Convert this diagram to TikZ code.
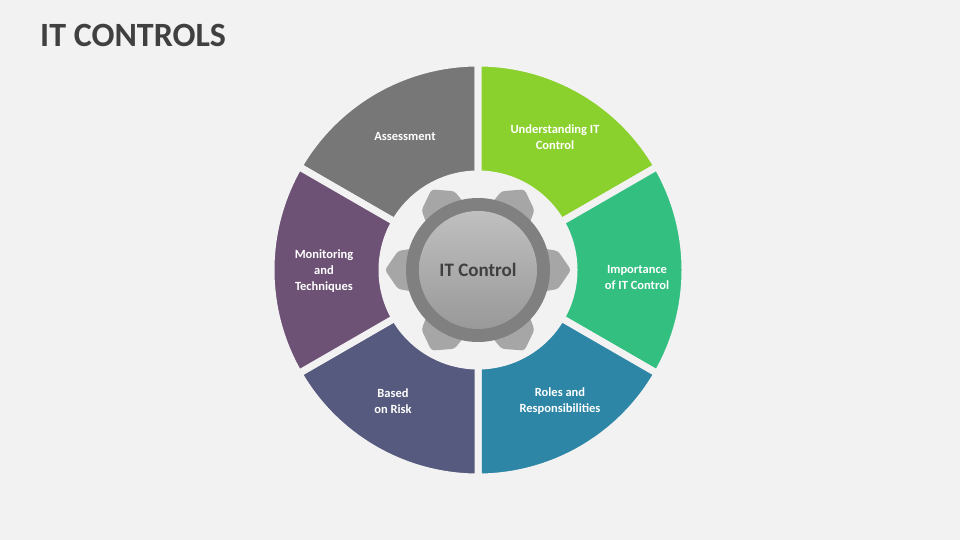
\documentclass[tikz,border=0pt]{standalone}
\usepackage{fontspec}
\setmainfont{Carlito}
\usetikzlibrary{calc}
\begin{document}
\begin{tikzpicture}[x=1pt,y=-1pt,
 seg/.style={draw=bgc,line width=7pt,line join=miter},
 lbl/.style={text=white,font=\bfseries\fontsize{12.5}{16}\selectfont,align=center},
 tooth/.style={fill=toothc,draw=none,rounded corners=3pt}]
\definecolor{bgc}{HTML}{F2F2F2}
\definecolor{toothc}{HTML}{A6A6A6}
\fill[bgc] (0,0) rectangle (960,540);
\useasboundingbox (0,0) rectangle (960,540);
\node[anchor=west,font=\bfseries\fontsize{34}{38}\selectfont,text=black!75,inner sep=0pt] (title) at (40,35) {IT CONTROLS};
\coordinate (c) at (478,270);
\def\Ro{207}\def\Ri{96}
\foreach \a/\b/\col in {90/150/777777,30/90/8BD12E,-30/30/33BF80,-90/-30/2E86A6,-150/-90/565A7E,150/210/6D5276}{
 \definecolor{sc}{HTML}{\col}
 \filldraw[seg,fill=sc] ($(c)+(-\a:\Ro)$) arc[start angle=-\a,end angle=-\b,radius=\Ro] -- ($(c)+(-\b:\Ri)$) arc[start angle=-\b,end angle=-\a,radius=\Ri] -- cycle;
}
\foreach \t in {0,60,120,180,240,300}{
 \fill[tooth,rotate around={\t:(c)}] ($(c)+(50,-24)$) -- ($(c)+(80,-19)$) -- ($(c)+(93,0)$) -- ($(c)+(80,19)$) -- ($(c)+(50,24)$) -- cycle;
}
\fill[black!50] (c) circle[radius=72];
\shade[top color=black!25,bottom color=black!40] (c) circle[radius=59];
\node[font=\bfseries\fontsize{19}{22}\selectfont,text=black!75] (center) at (c) {IT Control};
\node[lbl] (n1) at (405,136) {Assessment};
\node[lbl] (n2) at (555,137) {Understanding IT\\Control};
\node[lbl] (n3) at (637,277) {Importance\\of IT Control};
\node[lbl] (n4) at (560,401) {Roles and\\Responsibilities};
\node[lbl] (n5) at (393,401) {Based\\on Risk};
\node[lbl] (n6) at (324,271) {Monitoring\\and\\Techniques};
\end{tikzpicture}
\end{document}
